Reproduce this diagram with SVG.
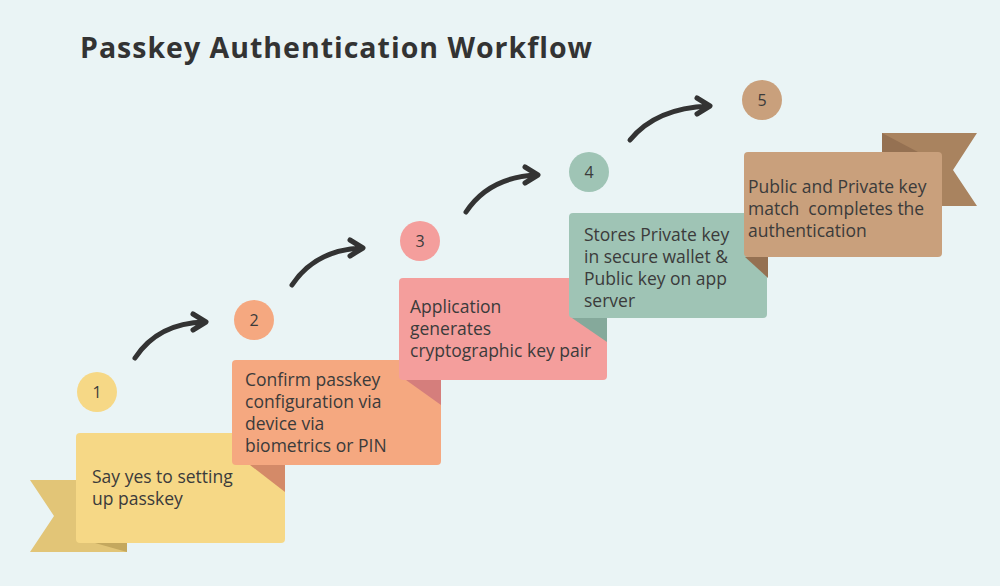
<svg xmlns="http://www.w3.org/2000/svg" width="1000" height="586" viewBox="0 0 1000 586">
<style>
.t{font-family:"Open Sans","Liberation Sans",sans-serif;font-size:17.5px;fill:#3b3b3b;white-space:pre}
.n{font-family:"Open Sans","Liberation Sans",sans-serif;font-size:16px;fill:#3b3b3b;text-anchor:middle}
.arr{fill:none;stroke:#333;stroke-width:5;stroke-linecap:round;stroke-linejoin:round}
</style>
<rect width="1000" height="586" fill="#eaf4f5"/>
<text x="80" y="58" font-family="'Open Sans','Liberation Sans',sans-serif" font-weight="bold" font-size="28.5" letter-spacing="1" fill="#333">Passkey Authentication Workflow</text>
<g id="connectors">
<path class="arr" d="M135,358 Q158,323 205,322 M193,314 L206,322 L193,330"/>
<path class="arr" d="M292,285 Q315,250 362,248 M350,240 L363,248 L350,256"/>
<path class="arr" d="M466,212 Q489,177 537,175 M525,167 L538,175 L525,183"/>
<path class="arr" d="M630,140 Q656,108 709,106 M697,98 L710,106 L697,114"/>
</g>
<g id="step1">
<polygon points="30,480 90,480 90,552 30,552 54,516" fill="#e2c577"/>
<polygon points="90,543 127,543 127,552 90,552" fill="#e2c577"/>
<polygon points="95,543 127,543 127,552" fill="#c4a85e"/>
<rect x="76" y="433" width="209" height="110" rx="4" fill="#f6d886"/>
<circle cx="97" cy="392" r="20" fill="#f6d886"/>
<text class="n" x="97" y="398">1</text>
<text class="t" x="92" y="483">Say yes to setting</text>
<text class="t" x="92" y="505">up passkey</text>
</g>
<g id="step2">
<rect x="232" y="360" width="209" height="105" rx="4" fill="#f5a880"/>
<polygon points="250,465 285,465 285,492" fill="#d48a68"/>
<circle cx="254" cy="320" r="20" fill="#f5a880"/>
<text class="n" x="254" y="326">2</text>
<text class="t" x="245" y="386">Confirm passkey</text>
<text class="t" x="245" y="408">configuration via</text>
<text class="t" x="245" y="430">device via</text>
<text class="t" x="245" y="452">biometrics or PIN</text>
</g>
<g id="step3">
<rect x="399" y="278" width="208" height="102" rx="4" fill="#f49e9c"/>
<polygon points="406,380 441,380 441,405" fill="#d57e7c"/>
<circle cx="420" cy="241" r="20" fill="#f49e9c"/>
<text class="n" x="420" y="247">3</text>
<text class="t" x="410" y="313">Application</text>
<text class="t" x="410" y="335">generates</text>
<text class="t" x="410" y="357">cryptographic key pair</text>
</g>
<g id="step4">
<rect x="569" y="213" width="198" height="105" rx="4" fill="#9fc4b5"/>
<polygon points="572,318 607,318 607,342" fill="#85a99b"/>
<circle cx="589" cy="172" r="20" fill="#9fc4b5"/>
<text class="n" x="589" y="178">4</text>
<text class="t" x="584" y="241">Stores Private key</text>
<text class="t" x="584" y="263">in secure wallet &amp;</text>
<text class="t" x="584" y="285">Public key on app</text>
<text class="t" x="584" y="307">server</text>
</g>
<g id="step5">
<polygon points="882,133 977,133 953,170 977,206 900,206 882,206" fill="#a9835f"/>
<polygon points="882,133 918,152 882,152" fill="#957152"/>
<rect x="744" y="152" width="198" height="105" rx="4" fill="#c9a07c"/>
<polygon points="745,257 768,257 768,278" fill="#957152"/>
<circle cx="762" cy="100" r="20" fill="#c9a07c"/>
<text class="n" x="762" y="106">5</text>
<text class="t" x="748" y="193">Public and Private key</text>
<text class="t" x="748" y="215">match  completes the</text>
<text class="t" x="748" y="237">authentication</text>
</g>
</svg>
